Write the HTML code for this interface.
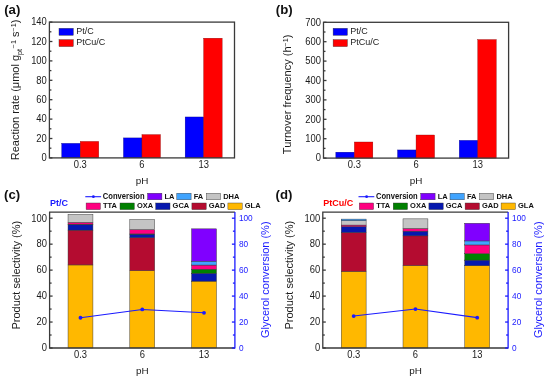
<!DOCTYPE html>
<html><head><meta charset="utf-8"><style>
html,body{margin:0;padding:0;background:#fff;}
body{width:550px;height:382px;overflow:hidden;}
svg{display:block;filter:blur(0.3px);font-family:"Liberation Sans", sans-serif;}
</style></head><body>
<svg width="550" height="382" viewBox="0 0 550 382">
<rect width="550" height="382" fill="#fff"/>
<rect x="61.75" y="143.35" width="18.50" height="14.55" fill="#0000ff" stroke="#000080" stroke-width="0.35"/>
<rect x="80.25" y="141.41" width="18.50" height="16.49" fill="#ff0000" stroke="#800000" stroke-width="0.35"/>
<rect x="123.45" y="137.92" width="18.50" height="19.98" fill="#0000ff" stroke="#000080" stroke-width="0.35"/>
<rect x="141.95" y="134.62" width="18.50" height="23.28" fill="#ff0000" stroke="#800000" stroke-width="0.35"/>
<rect x="185.15" y="116.97" width="18.50" height="40.93" fill="#0000ff" stroke="#000080" stroke-width="0.35"/>
<rect x="203.65" y="38.20" width="18.50" height="119.70" fill="#ff0000" stroke="#800000" stroke-width="0.35"/>
<rect x="49.40" y="22.10" width="185.10" height="135.80" fill="none" stroke="#3a3a3a" stroke-width="1.3"/>
<line x1="49.40" y1="157.90" x2="52.40" y2="157.90" stroke="#3a3a3a" stroke-width="1.3"/>
<line x1="49.40" y1="148.20" x2="51.40" y2="148.20" stroke="#3a3a3a" stroke-width="1.3"/>
<line x1="49.40" y1="138.50" x2="52.40" y2="138.50" stroke="#3a3a3a" stroke-width="1.3"/>
<line x1="49.40" y1="128.80" x2="51.40" y2="128.80" stroke="#3a3a3a" stroke-width="1.3"/>
<line x1="49.40" y1="119.10" x2="52.40" y2="119.10" stroke="#3a3a3a" stroke-width="1.3"/>
<line x1="49.40" y1="109.40" x2="51.40" y2="109.40" stroke="#3a3a3a" stroke-width="1.3"/>
<line x1="49.40" y1="99.70" x2="52.40" y2="99.70" stroke="#3a3a3a" stroke-width="1.3"/>
<line x1="49.40" y1="90.00" x2="51.40" y2="90.00" stroke="#3a3a3a" stroke-width="1.3"/>
<line x1="49.40" y1="80.30" x2="52.40" y2="80.30" stroke="#3a3a3a" stroke-width="1.3"/>
<line x1="49.40" y1="70.60" x2="51.40" y2="70.60" stroke="#3a3a3a" stroke-width="1.3"/>
<line x1="49.40" y1="60.90" x2="52.40" y2="60.90" stroke="#3a3a3a" stroke-width="1.3"/>
<line x1="49.40" y1="51.20" x2="51.40" y2="51.20" stroke="#3a3a3a" stroke-width="1.3"/>
<line x1="49.40" y1="41.50" x2="52.40" y2="41.50" stroke="#3a3a3a" stroke-width="1.3"/>
<line x1="49.40" y1="31.80" x2="51.40" y2="31.80" stroke="#3a3a3a" stroke-width="1.3"/>
<line x1="49.40" y1="22.10" x2="52.40" y2="22.10" stroke="#3a3a3a" stroke-width="1.3"/>
<text transform="translate(46.80,161.20) scale(1,1.07)" font-size="9.4" text-anchor="end" fill="#1a1a1a" font-weight="normal">0</text>
<text transform="translate(46.80,141.80) scale(1,1.07)" font-size="9.4" text-anchor="end" fill="#1a1a1a" font-weight="normal">20</text>
<text transform="translate(46.80,122.40) scale(1,1.07)" font-size="9.4" text-anchor="end" fill="#1a1a1a" font-weight="normal">40</text>
<text transform="translate(46.80,103.00) scale(1,1.07)" font-size="9.4" text-anchor="end" fill="#1a1a1a" font-weight="normal">60</text>
<text transform="translate(46.80,83.60) scale(1,1.07)" font-size="9.4" text-anchor="end" fill="#1a1a1a" font-weight="normal">80</text>
<text transform="translate(46.80,64.20) scale(1,1.07)" font-size="9.4" text-anchor="end" fill="#1a1a1a" font-weight="normal">100</text>
<text transform="translate(46.80,44.80) scale(1,1.07)" font-size="9.4" text-anchor="end" fill="#1a1a1a" font-weight="normal">120</text>
<text transform="translate(46.80,25.40) scale(1,1.07)" font-size="9.4" text-anchor="end" fill="#1a1a1a" font-weight="normal">140</text>
<text transform="translate(80.25,168.00) scale(1,1.07)" font-size="9.4" text-anchor="middle" fill="#1a1a1a" font-weight="normal">0.3</text>
<text transform="translate(141.95,168.00) scale(1,1.07)" font-size="9.4" text-anchor="middle" fill="#1a1a1a" font-weight="normal">6</text>
<text transform="translate(203.65,168.00) scale(1,1.07)" font-size="9.4" text-anchor="middle" fill="#1a1a1a" font-weight="normal">13</text>
<text transform="translate(141.95,183.80) scale(1,1.0)" font-size="9.9" text-anchor="middle" fill="#1a1a1a" font-weight="normal">pH</text>
<rect x="59.00" y="28.3" width="14.3" height="7" fill="#0000ff" stroke="#333" stroke-width="0.4"/>
<rect x="59.00" y="39.6" width="14.3" height="7" fill="#ff0000" stroke="#333" stroke-width="0.4"/>
<text transform="translate(76.20,34.10) scale(1,1.07)" font-size="9" text-anchor="start" fill="#1a1a1a" font-weight="normal">Pt/C</text>
<text transform="translate(76.20,45.00) scale(1,1.07)" font-size="9" text-anchor="start" fill="#1a1a1a" font-weight="normal">PtCu/C</text>
<text transform="translate(19.00,89.90) rotate(-90) scale(1.0576923076923077,1)" font-size="10.4" text-anchor="middle" fill="#1a1a1a">Reaction rate (μmol g<tspan font-size="6.8" dy="2.8">pt</tspan><tspan font-size="6.8" dx="0.8" dy="-6.2">−1</tspan><tspan dy="3.4"> s</tspan><tspan font-size="6.8" dy="-3.4">−1</tspan><tspan dy="3.4">)</tspan></text>
<text transform="translate(4.20,13.60) scale(1,0.97)" font-size="13.2" text-anchor="start" fill="#111" font-weight="bold">(a)</text>
<rect x="335.85" y="152.18" width="18.50" height="5.92" fill="#0000ff" stroke="#000080" stroke-width="0.35"/>
<rect x="354.35" y="142.00" width="18.50" height="16.10" fill="#ff0000" stroke="#800000" stroke-width="0.35"/>
<rect x="397.55" y="149.95" width="18.50" height="8.15" fill="#0000ff" stroke="#000080" stroke-width="0.35"/>
<rect x="416.05" y="135.01" width="18.50" height="23.09" fill="#ff0000" stroke="#800000" stroke-width="0.35"/>
<rect x="459.25" y="140.37" width="18.50" height="17.73" fill="#0000ff" stroke="#000080" stroke-width="0.35"/>
<rect x="477.75" y="39.57" width="18.50" height="118.53" fill="#ff0000" stroke="#800000" stroke-width="0.35"/>
<rect x="323.50" y="22.30" width="185.10" height="135.80" fill="none" stroke="#3a3a3a" stroke-width="1.3"/>
<line x1="323.50" y1="158.10" x2="326.50" y2="158.10" stroke="#3a3a3a" stroke-width="1.3"/>
<line x1="323.50" y1="148.40" x2="325.50" y2="148.40" stroke="#3a3a3a" stroke-width="1.3"/>
<line x1="323.50" y1="138.70" x2="326.50" y2="138.70" stroke="#3a3a3a" stroke-width="1.3"/>
<line x1="323.50" y1="129.00" x2="325.50" y2="129.00" stroke="#3a3a3a" stroke-width="1.3"/>
<line x1="323.50" y1="119.30" x2="326.50" y2="119.30" stroke="#3a3a3a" stroke-width="1.3"/>
<line x1="323.50" y1="109.60" x2="325.50" y2="109.60" stroke="#3a3a3a" stroke-width="1.3"/>
<line x1="323.50" y1="99.90" x2="326.50" y2="99.90" stroke="#3a3a3a" stroke-width="1.3"/>
<line x1="323.50" y1="90.20" x2="325.50" y2="90.20" stroke="#3a3a3a" stroke-width="1.3"/>
<line x1="323.50" y1="80.50" x2="326.50" y2="80.50" stroke="#3a3a3a" stroke-width="1.3"/>
<line x1="323.50" y1="70.80" x2="325.50" y2="70.80" stroke="#3a3a3a" stroke-width="1.3"/>
<line x1="323.50" y1="61.10" x2="326.50" y2="61.10" stroke="#3a3a3a" stroke-width="1.3"/>
<line x1="323.50" y1="51.40" x2="325.50" y2="51.40" stroke="#3a3a3a" stroke-width="1.3"/>
<line x1="323.50" y1="41.70" x2="326.50" y2="41.70" stroke="#3a3a3a" stroke-width="1.3"/>
<line x1="323.50" y1="32.00" x2="325.50" y2="32.00" stroke="#3a3a3a" stroke-width="1.3"/>
<line x1="323.50" y1="22.30" x2="326.50" y2="22.30" stroke="#3a3a3a" stroke-width="1.3"/>
<text transform="translate(320.90,161.40) scale(1,1.07)" font-size="9.4" text-anchor="end" fill="#1a1a1a" font-weight="normal">0</text>
<text transform="translate(320.90,142.00) scale(1,1.07)" font-size="9.4" text-anchor="end" fill="#1a1a1a" font-weight="normal">100</text>
<text transform="translate(320.90,122.60) scale(1,1.07)" font-size="9.4" text-anchor="end" fill="#1a1a1a" font-weight="normal">200</text>
<text transform="translate(320.90,103.20) scale(1,1.07)" font-size="9.4" text-anchor="end" fill="#1a1a1a" font-weight="normal">300</text>
<text transform="translate(320.90,83.80) scale(1,1.07)" font-size="9.4" text-anchor="end" fill="#1a1a1a" font-weight="normal">400</text>
<text transform="translate(320.90,64.40) scale(1,1.07)" font-size="9.4" text-anchor="end" fill="#1a1a1a" font-weight="normal">500</text>
<text transform="translate(320.90,45.00) scale(1,1.07)" font-size="9.4" text-anchor="end" fill="#1a1a1a" font-weight="normal">600</text>
<text transform="translate(320.90,25.60) scale(1,1.07)" font-size="9.4" text-anchor="end" fill="#1a1a1a" font-weight="normal">700</text>
<text transform="translate(354.35,168.00) scale(1,1.07)" font-size="9.4" text-anchor="middle" fill="#1a1a1a" font-weight="normal">0.3</text>
<text transform="translate(416.05,168.00) scale(1,1.07)" font-size="9.4" text-anchor="middle" fill="#1a1a1a" font-weight="normal">6</text>
<text transform="translate(477.75,168.00) scale(1,1.07)" font-size="9.4" text-anchor="middle" fill="#1a1a1a" font-weight="normal">13</text>
<text transform="translate(416.05,183.80) scale(1,1.0)" font-size="9.9" text-anchor="middle" fill="#1a1a1a" font-weight="normal">pH</text>
<rect x="333.10" y="28.3" width="14.3" height="7" fill="#0000ff" stroke="#333" stroke-width="0.4"/>
<rect x="333.10" y="39.6" width="14.3" height="7" fill="#ff0000" stroke="#333" stroke-width="0.4"/>
<text transform="translate(350.30,34.10) scale(1,1.07)" font-size="9" text-anchor="start" fill="#1a1a1a" font-weight="normal">Pt/C</text>
<text transform="translate(350.30,45.00) scale(1,1.07)" font-size="9" text-anchor="start" fill="#1a1a1a" font-weight="normal">PtCu/C</text>
<text transform="translate(291.00,94.40) rotate(-90) scale(1.0576923076923077,1)" font-size="10.4" text-anchor="middle" fill="#1a1a1a">Turnover frequency (h<tspan font-size="6.8" dy="-3.4">−1</tspan><tspan dy="3.4">)</tspan></text>
<text transform="translate(275.80,13.60) scale(1,0.97)" font-size="13.2" text-anchor="start" fill="#111" font-weight="bold">(b)</text>
<rect x="68.03" y="264.93" width="24.90" height="83.07" fill="#ffb800" stroke="#333" stroke-width="0.45"/>
<rect x="68.03" y="230.14" width="24.90" height="34.79" fill="#b40c30" stroke="#333" stroke-width="0.45"/>
<rect x="68.03" y="224.56" width="24.90" height="5.58" fill="#0618ae" stroke="#333" stroke-width="0.45"/>
<rect x="68.03" y="224.17" width="24.90" height="0.39" fill="#008000" stroke="#333" stroke-width="0.45"/>
<rect x="68.03" y="222.35" width="24.90" height="1.82" fill="#ff0080" stroke="#333" stroke-width="0.45"/>
<rect x="68.03" y="214.31" width="24.90" height="8.05" fill="#c4c4c4" stroke="#333" stroke-width="0.45"/>
<rect x="129.80" y="270.64" width="24.90" height="77.36" fill="#ffb800" stroke="#333" stroke-width="0.45"/>
<rect x="129.80" y="237.67" width="24.90" height="32.97" fill="#b40c30" stroke="#333" stroke-width="0.45"/>
<rect x="129.80" y="234.17" width="24.90" height="3.50" fill="#0618ae" stroke="#333" stroke-width="0.45"/>
<rect x="129.80" y="233.91" width="24.90" height="0.26" fill="#008000" stroke="#333" stroke-width="0.45"/>
<rect x="129.80" y="229.62" width="24.90" height="4.28" fill="#ff0080" stroke="#333" stroke-width="0.45"/>
<rect x="129.80" y="219.37" width="24.90" height="10.25" fill="#c4c4c4" stroke="#333" stroke-width="0.45"/>
<rect x="191.57" y="281.15" width="24.90" height="66.85" fill="#ffb800" stroke="#333" stroke-width="0.45"/>
<rect x="191.57" y="273.24" width="24.90" height="7.92" fill="#0618ae" stroke="#333" stroke-width="0.45"/>
<rect x="191.57" y="269.21" width="24.90" height="4.02" fill="#008000" stroke="#333" stroke-width="0.45"/>
<rect x="191.57" y="265.06" width="24.90" height="4.15" fill="#ff0080" stroke="#333" stroke-width="0.45"/>
<rect x="191.57" y="261.16" width="24.90" height="3.89" fill="#40a4ff" stroke="#333" stroke-width="0.45"/>
<rect x="191.57" y="228.84" width="24.90" height="32.32" fill="#8000ff" stroke="#333" stroke-width="0.45"/>
<path d="M234.90,212.10 H49.60 V348.00 H234.90" fill="none" stroke="#3a3a3a" stroke-width="1.3"/>
<line x1="234.90" y1="212.10" x2="234.90" y2="348.50" stroke="#1a1aff" stroke-width="1.3"/>
<line x1="49.60" y1="348.00" x2="52.60" y2="348.00" stroke="#3a3a3a" stroke-width="1.3"/>
<line x1="234.90" y1="348.00" x2="231.90" y2="348.00" stroke="#1a1aff" stroke-width="1.3"/>
<line x1="49.60" y1="335.02" x2="51.60" y2="335.02" stroke="#3a3a3a" stroke-width="1.3"/>
<line x1="234.90" y1="335.02" x2="232.90" y2="335.02" stroke="#1a1aff" stroke-width="1.3"/>
<line x1="49.60" y1="322.04" x2="52.60" y2="322.04" stroke="#3a3a3a" stroke-width="1.3"/>
<line x1="234.90" y1="322.04" x2="231.90" y2="322.04" stroke="#1a1aff" stroke-width="1.3"/>
<line x1="49.60" y1="309.06" x2="51.60" y2="309.06" stroke="#3a3a3a" stroke-width="1.3"/>
<line x1="234.90" y1="309.06" x2="232.90" y2="309.06" stroke="#1a1aff" stroke-width="1.3"/>
<line x1="49.60" y1="296.08" x2="52.60" y2="296.08" stroke="#3a3a3a" stroke-width="1.3"/>
<line x1="234.90" y1="296.08" x2="231.90" y2="296.08" stroke="#1a1aff" stroke-width="1.3"/>
<line x1="49.60" y1="283.10" x2="51.60" y2="283.10" stroke="#3a3a3a" stroke-width="1.3"/>
<line x1="234.90" y1="283.10" x2="232.90" y2="283.10" stroke="#1a1aff" stroke-width="1.3"/>
<line x1="49.60" y1="270.12" x2="52.60" y2="270.12" stroke="#3a3a3a" stroke-width="1.3"/>
<line x1="234.90" y1="270.12" x2="231.90" y2="270.12" stroke="#1a1aff" stroke-width="1.3"/>
<line x1="49.60" y1="257.14" x2="51.60" y2="257.14" stroke="#3a3a3a" stroke-width="1.3"/>
<line x1="234.90" y1="257.14" x2="232.90" y2="257.14" stroke="#1a1aff" stroke-width="1.3"/>
<line x1="49.60" y1="244.16" x2="52.60" y2="244.16" stroke="#3a3a3a" stroke-width="1.3"/>
<line x1="234.90" y1="244.16" x2="231.90" y2="244.16" stroke="#1a1aff" stroke-width="1.3"/>
<line x1="49.60" y1="231.18" x2="51.60" y2="231.18" stroke="#3a3a3a" stroke-width="1.3"/>
<line x1="234.90" y1="231.18" x2="232.90" y2="231.18" stroke="#1a1aff" stroke-width="1.3"/>
<line x1="49.60" y1="218.20" x2="52.60" y2="218.20" stroke="#3a3a3a" stroke-width="1.3"/>
<line x1="234.90" y1="218.20" x2="231.90" y2="218.20" stroke="#1a1aff" stroke-width="1.3"/>
<text transform="translate(47.00,351.30) scale(1,1.07)" font-size="9.4" text-anchor="end" fill="#1a1a1a" font-weight="normal">0</text>
<text transform="translate(238.90,350.50) scale(1,1.12)" font-size="8.3" text-anchor="start" fill="#1a1aff" font-weight="normal">0</text>
<text transform="translate(47.00,325.34) scale(1,1.07)" font-size="9.4" text-anchor="end" fill="#1a1a1a" font-weight="normal">20</text>
<text transform="translate(238.90,324.54) scale(1,1.12)" font-size="8.3" text-anchor="start" fill="#1a1aff" font-weight="normal">20</text>
<text transform="translate(47.00,299.38) scale(1,1.07)" font-size="9.4" text-anchor="end" fill="#1a1a1a" font-weight="normal">40</text>
<text transform="translate(238.90,298.58) scale(1,1.12)" font-size="8.3" text-anchor="start" fill="#1a1aff" font-weight="normal">40</text>
<text transform="translate(47.00,273.42) scale(1,1.07)" font-size="9.4" text-anchor="end" fill="#1a1a1a" font-weight="normal">60</text>
<text transform="translate(238.90,272.62) scale(1,1.12)" font-size="8.3" text-anchor="start" fill="#1a1aff" font-weight="normal">60</text>
<text transform="translate(47.00,247.46) scale(1,1.07)" font-size="9.4" text-anchor="end" fill="#1a1a1a" font-weight="normal">80</text>
<text transform="translate(238.90,246.66) scale(1,1.12)" font-size="8.3" text-anchor="start" fill="#1a1aff" font-weight="normal">80</text>
<text transform="translate(47.00,221.50) scale(1,1.07)" font-size="9.4" text-anchor="end" fill="#1a1a1a" font-weight="normal">100</text>
<text transform="translate(238.90,220.70) scale(1,1.12)" font-size="8.3" text-anchor="start" fill="#1a1aff" font-weight="normal">100</text>
<text transform="translate(80.48,358.10) scale(1,1.07)" font-size="9.4" text-anchor="middle" fill="#1a1a1a" font-weight="normal">0.3</text>
<text transform="translate(142.25,358.10) scale(1,1.07)" font-size="9.4" text-anchor="middle" fill="#1a1a1a" font-weight="normal">6</text>
<text transform="translate(204.02,358.10) scale(1,1.07)" font-size="9.4" text-anchor="middle" fill="#1a1a1a" font-weight="normal">13</text>
<text transform="translate(142.25,374.20) scale(1,1.0)" font-size="9.9" text-anchor="middle" fill="#1a1a1a" font-weight="normal">pH</text>
<polyline points="80.48,317.76 142.25,309.45 204.02,312.82" fill="none" stroke="#1a1aff" stroke-width="1.1"/>
<circle cx="80.48" cy="317.76" r="1.9" fill="#1a1aff"/>
<circle cx="142.25" cy="309.45" r="1.9" fill="#1a1aff"/>
<circle cx="204.02" cy="312.82" r="1.9" fill="#1a1aff"/>
<text transform="translate(20.20,275.20) rotate(-90) scale(1.0576923076923077,1)" font-size="10.4" text-anchor="middle" fill="#1a1a1a">Product selectivity (%)</text>
<text transform="translate(269.20,279.75) rotate(-90) scale(1.0576923076923077,1)" font-size="10.4" text-anchor="middle" fill="#1a1aff">Glycerol conversion (%)</text>
<text transform="translate(50.00,205.90) scale(1,1.07)" font-size="9" text-anchor="start" fill="#1a1aff" font-weight="bold">Pt/C</text>
<text transform="translate(4.00,199.20) scale(1,0.97)" font-size="13.2" text-anchor="start" fill="#111" font-weight="bold">(c)</text>
<line x1="85.30" y1="196.7" x2="101.10" y2="196.7" stroke="#1a1aff" stroke-width="1.1"/>
<circle cx="93.40" cy="196.7" r="1.4" fill="#1a1aff"/>
<text transform="translate(102.80,198.60) scale(1,1.07)" font-size="7.6" text-anchor="start" fill="#111" font-weight="bold">Conversion</text>
<rect x="147.60" y="193.20" width="14.3" height="6.6" fill="#8000ff" stroke="#333" stroke-width="0.4"/>
<text transform="translate(164.50,198.50) scale(1,1.07)" font-size="7.5" text-anchor="start" fill="#111" font-weight="bold">LA</text>
<rect x="176.80" y="193.20" width="14.3" height="6.6" fill="#40a4ff" stroke="#333" stroke-width="0.4"/>
<text transform="translate(193.70,198.50) scale(1,1.07)" font-size="7.5" text-anchor="start" fill="#111" font-weight="bold">FA</text>
<rect x="206.30" y="193.20" width="14.3" height="6.6" fill="#c4c4c4" stroke="#333" stroke-width="0.4"/>
<text transform="translate(223.20,198.50) scale(1,1.07)" font-size="7.5" text-anchor="start" fill="#111" font-weight="bold">DHA</text>
<rect x="86.10" y="203.00" width="14.3" height="6.6" fill="#ff0080" stroke="#333" stroke-width="0.4"/>
<text transform="translate(103.00,208.30) scale(1,1.07)" font-size="7.5" text-anchor="start" fill="#111" font-weight="bold">TTA</text>
<rect x="120.00" y="203.00" width="14.3" height="6.6" fill="#008000" stroke="#333" stroke-width="0.4"/>
<text transform="translate(136.90,208.30) scale(1,1.07)" font-size="7.5" text-anchor="start" fill="#111" font-weight="bold">OXA</text>
<rect x="155.70" y="203.00" width="14.3" height="6.6" fill="#0618ae" stroke="#333" stroke-width="0.4"/>
<text transform="translate(172.60,208.30) scale(1,1.07)" font-size="7.5" text-anchor="start" fill="#111" font-weight="bold">GCA</text>
<rect x="191.90" y="203.00" width="14.3" height="6.6" fill="#b40c30" stroke="#333" stroke-width="0.4"/>
<text transform="translate(208.80,208.30) scale(1,1.07)" font-size="7.5" text-anchor="start" fill="#111" font-weight="bold">GAD</text>
<rect x="227.90" y="203.00" width="14.3" height="6.6" fill="#ffb800" stroke="#333" stroke-width="0.4"/>
<text transform="translate(244.80,208.30) scale(1,1.07)" font-size="7.5" text-anchor="start" fill="#111" font-weight="bold">GLA</text>
<rect x="341.23" y="271.42" width="24.90" height="76.58" fill="#ffb800" stroke="#333" stroke-width="0.45"/>
<rect x="341.23" y="232.48" width="24.90" height="38.94" fill="#b40c30" stroke="#333" stroke-width="0.45"/>
<rect x="341.23" y="226.64" width="24.90" height="5.84" fill="#0618ae" stroke="#333" stroke-width="0.45"/>
<rect x="341.23" y="225.08" width="24.90" height="1.56" fill="#ff0080" stroke="#333" stroke-width="0.45"/>
<rect x="341.23" y="220.67" width="24.90" height="4.41" fill="#c4c4c4" stroke="#333" stroke-width="0.45"/>
<rect x="341.23" y="219.11" width="24.90" height="1.56" fill="#40a4ff" stroke="#333" stroke-width="0.45"/>
<rect x="403.00" y="265.58" width="24.90" height="82.42" fill="#ffb800" stroke="#333" stroke-width="0.45"/>
<rect x="403.00" y="235.85" width="24.90" height="29.72" fill="#b40c30" stroke="#333" stroke-width="0.45"/>
<rect x="403.00" y="231.18" width="24.90" height="4.67" fill="#0618ae" stroke="#333" stroke-width="0.45"/>
<rect x="403.00" y="228.45" width="24.90" height="2.73" fill="#ff0080" stroke="#333" stroke-width="0.45"/>
<rect x="403.00" y="218.85" width="24.90" height="9.61" fill="#c4c4c4" stroke="#333" stroke-width="0.45"/>
<rect x="464.77" y="265.71" width="24.90" height="82.29" fill="#ffb800" stroke="#333" stroke-width="0.45"/>
<rect x="464.77" y="260.13" width="24.90" height="5.58" fill="#0618ae" stroke="#333" stroke-width="0.45"/>
<rect x="464.77" y="253.64" width="24.90" height="6.49" fill="#008000" stroke="#333" stroke-width="0.45"/>
<rect x="464.77" y="244.94" width="24.90" height="8.70" fill="#ff0080" stroke="#333" stroke-width="0.45"/>
<rect x="464.77" y="240.91" width="24.90" height="4.02" fill="#40a4ff" stroke="#333" stroke-width="0.45"/>
<rect x="464.77" y="223.26" width="24.90" height="17.65" fill="#8000ff" stroke="#333" stroke-width="0.45"/>
<path d="M508.10,212.10 H322.80 V348.00 H508.10" fill="none" stroke="#3a3a3a" stroke-width="1.3"/>
<line x1="508.10" y1="212.10" x2="508.10" y2="348.50" stroke="#1a1aff" stroke-width="1.3"/>
<line x1="322.80" y1="348.00" x2="325.80" y2="348.00" stroke="#3a3a3a" stroke-width="1.3"/>
<line x1="508.10" y1="348.00" x2="505.10" y2="348.00" stroke="#1a1aff" stroke-width="1.3"/>
<line x1="322.80" y1="335.02" x2="324.80" y2="335.02" stroke="#3a3a3a" stroke-width="1.3"/>
<line x1="508.10" y1="335.02" x2="506.10" y2="335.02" stroke="#1a1aff" stroke-width="1.3"/>
<line x1="322.80" y1="322.04" x2="325.80" y2="322.04" stroke="#3a3a3a" stroke-width="1.3"/>
<line x1="508.10" y1="322.04" x2="505.10" y2="322.04" stroke="#1a1aff" stroke-width="1.3"/>
<line x1="322.80" y1="309.06" x2="324.80" y2="309.06" stroke="#3a3a3a" stroke-width="1.3"/>
<line x1="508.10" y1="309.06" x2="506.10" y2="309.06" stroke="#1a1aff" stroke-width="1.3"/>
<line x1="322.80" y1="296.08" x2="325.80" y2="296.08" stroke="#3a3a3a" stroke-width="1.3"/>
<line x1="508.10" y1="296.08" x2="505.10" y2="296.08" stroke="#1a1aff" stroke-width="1.3"/>
<line x1="322.80" y1="283.10" x2="324.80" y2="283.10" stroke="#3a3a3a" stroke-width="1.3"/>
<line x1="508.10" y1="283.10" x2="506.10" y2="283.10" stroke="#1a1aff" stroke-width="1.3"/>
<line x1="322.80" y1="270.12" x2="325.80" y2="270.12" stroke="#3a3a3a" stroke-width="1.3"/>
<line x1="508.10" y1="270.12" x2="505.10" y2="270.12" stroke="#1a1aff" stroke-width="1.3"/>
<line x1="322.80" y1="257.14" x2="324.80" y2="257.14" stroke="#3a3a3a" stroke-width="1.3"/>
<line x1="508.10" y1="257.14" x2="506.10" y2="257.14" stroke="#1a1aff" stroke-width="1.3"/>
<line x1="322.80" y1="244.16" x2="325.80" y2="244.16" stroke="#3a3a3a" stroke-width="1.3"/>
<line x1="508.10" y1="244.16" x2="505.10" y2="244.16" stroke="#1a1aff" stroke-width="1.3"/>
<line x1="322.80" y1="231.18" x2="324.80" y2="231.18" stroke="#3a3a3a" stroke-width="1.3"/>
<line x1="508.10" y1="231.18" x2="506.10" y2="231.18" stroke="#1a1aff" stroke-width="1.3"/>
<line x1="322.80" y1="218.20" x2="325.80" y2="218.20" stroke="#3a3a3a" stroke-width="1.3"/>
<line x1="508.10" y1="218.20" x2="505.10" y2="218.20" stroke="#1a1aff" stroke-width="1.3"/>
<text transform="translate(320.20,351.30) scale(1,1.07)" font-size="9.4" text-anchor="end" fill="#1a1a1a" font-weight="normal">0</text>
<text transform="translate(512.10,350.50) scale(1,1.12)" font-size="8.3" text-anchor="start" fill="#1a1aff" font-weight="normal">0</text>
<text transform="translate(320.20,325.34) scale(1,1.07)" font-size="9.4" text-anchor="end" fill="#1a1a1a" font-weight="normal">20</text>
<text transform="translate(512.10,324.54) scale(1,1.12)" font-size="8.3" text-anchor="start" fill="#1a1aff" font-weight="normal">20</text>
<text transform="translate(320.20,299.38) scale(1,1.07)" font-size="9.4" text-anchor="end" fill="#1a1a1a" font-weight="normal">40</text>
<text transform="translate(512.10,298.58) scale(1,1.12)" font-size="8.3" text-anchor="start" fill="#1a1aff" font-weight="normal">40</text>
<text transform="translate(320.20,273.42) scale(1,1.07)" font-size="9.4" text-anchor="end" fill="#1a1a1a" font-weight="normal">60</text>
<text transform="translate(512.10,272.62) scale(1,1.12)" font-size="8.3" text-anchor="start" fill="#1a1aff" font-weight="normal">60</text>
<text transform="translate(320.20,247.46) scale(1,1.07)" font-size="9.4" text-anchor="end" fill="#1a1a1a" font-weight="normal">80</text>
<text transform="translate(512.10,246.66) scale(1,1.12)" font-size="8.3" text-anchor="start" fill="#1a1aff" font-weight="normal">80</text>
<text transform="translate(320.20,221.50) scale(1,1.07)" font-size="9.4" text-anchor="end" fill="#1a1a1a" font-weight="normal">100</text>
<text transform="translate(512.10,220.70) scale(1,1.12)" font-size="8.3" text-anchor="start" fill="#1a1aff" font-weight="normal">100</text>
<text transform="translate(353.68,358.10) scale(1,1.07)" font-size="9.4" text-anchor="middle" fill="#1a1a1a" font-weight="normal">0.3</text>
<text transform="translate(415.45,358.10) scale(1,1.07)" font-size="9.4" text-anchor="middle" fill="#1a1a1a" font-weight="normal">6</text>
<text transform="translate(477.22,358.10) scale(1,1.07)" font-size="9.4" text-anchor="middle" fill="#1a1a1a" font-weight="normal">13</text>
<text transform="translate(415.45,374.20) scale(1,1.0)" font-size="9.9" text-anchor="middle" fill="#1a1a1a" font-weight="normal">pH</text>
<polyline points="353.68,316.07 415.45,309.06 477.22,317.63" fill="none" stroke="#1a1aff" stroke-width="1.1"/>
<circle cx="353.68" cy="316.07" r="1.9" fill="#1a1aff"/>
<circle cx="415.45" cy="309.06" r="1.9" fill="#1a1aff"/>
<circle cx="477.22" cy="317.63" r="1.9" fill="#1a1aff"/>
<text transform="translate(293.40,275.20) rotate(-90) scale(1.0576923076923077,1)" font-size="10.4" text-anchor="middle" fill="#1a1a1a">Product selectivity (%)</text>
<text transform="translate(542.40,279.75) rotate(-90) scale(1.0576923076923077,1)" font-size="10.4" text-anchor="middle" fill="#1a1aff">Glycerol conversion (%)</text>
<text transform="translate(323.20,205.90) scale(1,1.07)" font-size="9" text-anchor="start" fill="#ff0000" font-weight="bold">PtCu/C</text>
<text transform="translate(275.60,199.20) scale(1,0.97)" font-size="13.2" text-anchor="start" fill="#111" font-weight="bold">(d)</text>
<line x1="358.50" y1="196.7" x2="374.30" y2="196.7" stroke="#1a1aff" stroke-width="1.1"/>
<circle cx="366.60" cy="196.7" r="1.4" fill="#1a1aff"/>
<text transform="translate(376.00,198.60) scale(1,1.07)" font-size="7.6" text-anchor="start" fill="#111" font-weight="bold">Conversion</text>
<rect x="420.80" y="193.20" width="14.3" height="6.6" fill="#8000ff" stroke="#333" stroke-width="0.4"/>
<text transform="translate(437.70,198.50) scale(1,1.07)" font-size="7.5" text-anchor="start" fill="#111" font-weight="bold">LA</text>
<rect x="450.00" y="193.20" width="14.3" height="6.6" fill="#40a4ff" stroke="#333" stroke-width="0.4"/>
<text transform="translate(466.90,198.50) scale(1,1.07)" font-size="7.5" text-anchor="start" fill="#111" font-weight="bold">FA</text>
<rect x="479.50" y="193.20" width="14.3" height="6.6" fill="#c4c4c4" stroke="#333" stroke-width="0.4"/>
<text transform="translate(496.40,198.50) scale(1,1.07)" font-size="7.5" text-anchor="start" fill="#111" font-weight="bold">DHA</text>
<rect x="359.30" y="203.00" width="14.3" height="6.6" fill="#ff0080" stroke="#333" stroke-width="0.4"/>
<text transform="translate(376.20,208.30) scale(1,1.07)" font-size="7.5" text-anchor="start" fill="#111" font-weight="bold">TTA</text>
<rect x="393.20" y="203.00" width="14.3" height="6.6" fill="#008000" stroke="#333" stroke-width="0.4"/>
<text transform="translate(410.10,208.30) scale(1,1.07)" font-size="7.5" text-anchor="start" fill="#111" font-weight="bold">OXA</text>
<rect x="428.90" y="203.00" width="14.3" height="6.6" fill="#0618ae" stroke="#333" stroke-width="0.4"/>
<text transform="translate(445.80,208.30) scale(1,1.07)" font-size="7.5" text-anchor="start" fill="#111" font-weight="bold">GCA</text>
<rect x="465.10" y="203.00" width="14.3" height="6.6" fill="#b40c30" stroke="#333" stroke-width="0.4"/>
<text transform="translate(482.00,208.30) scale(1,1.07)" font-size="7.5" text-anchor="start" fill="#111" font-weight="bold">GAD</text>
<rect x="501.10" y="203.00" width="14.3" height="6.6" fill="#ffb800" stroke="#333" stroke-width="0.4"/>
<text transform="translate(518.00,208.30) scale(1,1.07)" font-size="7.5" text-anchor="start" fill="#111" font-weight="bold">GLA</text>
</svg>
</body></html>
